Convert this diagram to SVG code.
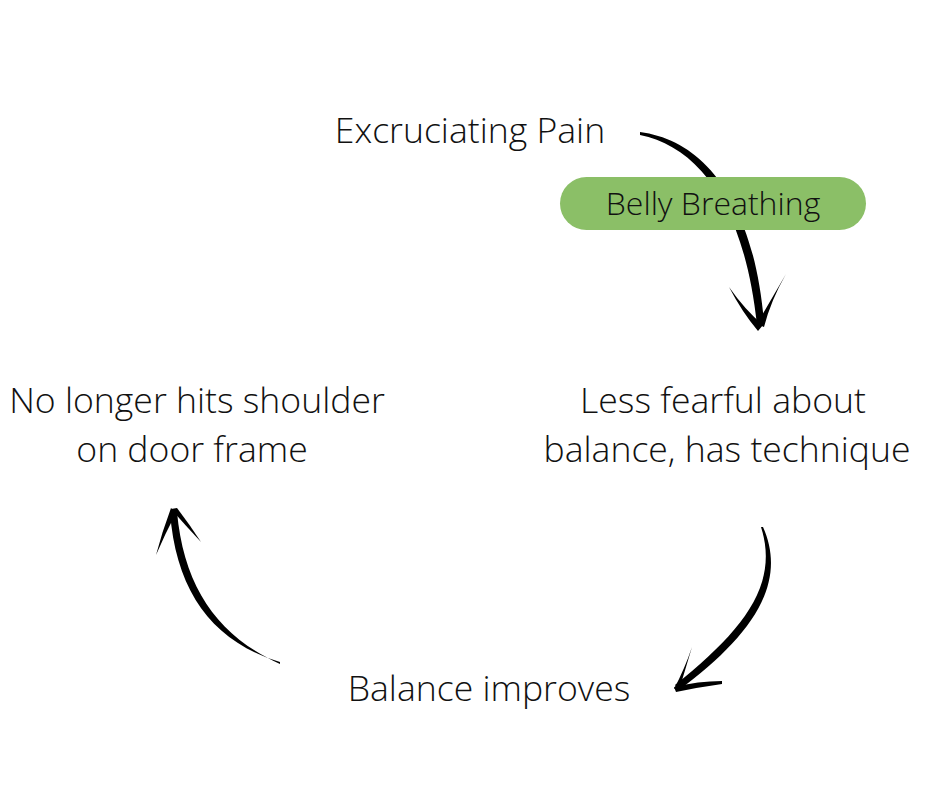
<svg xmlns="http://www.w3.org/2000/svg" width="940" height="788" viewBox="0 0 940 788">
<style>
.t{font-family:"Open Sans","Liberation Sans",sans-serif;font-weight:300;font-size:35.6px;fill:#111;text-anchor:middle}
.p{font-size:32px}
.a{fill:#000}
</style>
<rect width="940" height="788" fill="#fff"/>
<g id="connectors">
<g id="arrow1">
<path class="a" d="M640,132 C701,140 753,196 764,322 L757,325 C744,204 698,147 640,135 Z"/>
<path class="a" d="M729,287 Q745,310 763,325 L758,331 Q742,312 729,287 Z"/>
<path class="a" d="M786,274 Q771,300 764,327 L757,324 Q772,298 786,274 Z"/>
</g>
<g id="arrow2">
<path class="a" d="M763,527 C789,585 749,638 679,690 L675,685 C741,632 780,586 761,527 Z"/>
<path class="a" d="M692,647 Q685,668 674,689 L680,687 Q686,667 692,647 Z"/>
<path class="a" d="M722,681 Q698,681 674,687 L676,692 Q700,687 722,684 Z"/>
</g>
<g id="arrow3">
<path class="a" d="M280,662 C213,642 176,592 170,512 L177,512 C184,588 218,636 280,664 Z"/>
<path class="a" d="M156,555 Q162,532 171,508 L176,513 Q165,534 156,555 Z"/>
<path class="a" d="M201,542 Q186,526 171,509 L177,508 Q190,525 201,542 Z"/>
</g>
</g>
<g id="pain"><text class="t" x="470" y="143">Excruciating Pain</text></g>
<g id="belly">
<rect x="560" y="177" width="306" height="53" rx="26.5" fill="#8bbf67"/>
<text class="t p" x="713" y="215">Belly Breathing</text>
</g>
<g id="fearful">
<text class="t" x="723" y="413">Less fearful about</text>
<text class="t" x="727" y="462">balance, has technique</text>
</g>
<g id="balance"><text class="t" x="489" y="701">Balance improves</text></g>
<g id="shoulder">
<text class="t" x="197" y="413">No longer hits shoulder</text>
<text class="t" x="192" y="462">on door frame</text>
</g>
</svg>
